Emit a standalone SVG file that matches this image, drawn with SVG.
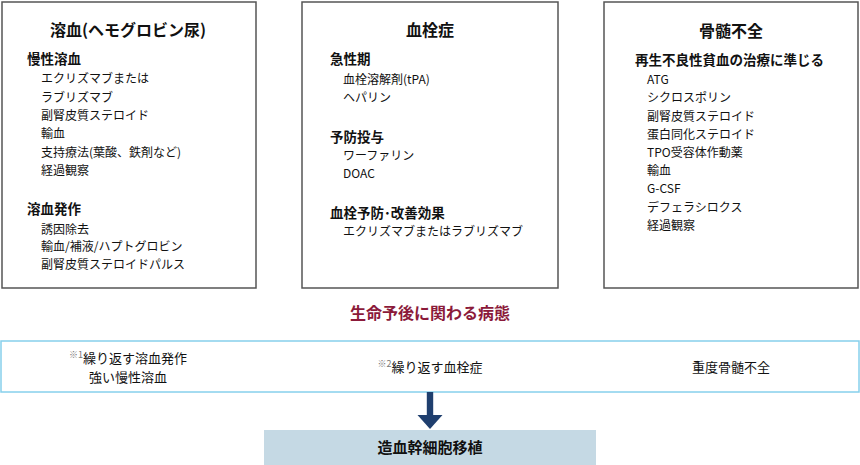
<svg xmlns="http://www.w3.org/2000/svg" width="860" height="465" viewBox="0 0 860 465">
<style>
text{font-family:"Noto Sans CJK JP","Noto Sans",sans-serif;fill:#111}
.box{fill:#fff;stroke:#555;stroke-width:1.5}
.t{font-size:16px;font-weight:bold;text-anchor:middle}
.h{font-size:13.5px;font-weight:bold}
.i{font-size:12px}
.r{font-size:13px;text-anchor:middle}
.sup{font-size:9px;fill:#777}
</style>
<rect width="860" height="465" fill="#fff"/>
<g id="node-hemolysis">
<rect class="box" x="2" y="2" width="254" height="286"/>
<text class="t" x="128" y="36">溶血(ヘモグロビン尿)</text>
<text class="h" x="27" y="64">慢性溶血</text>
<text class="i" x="41" y="83">エクリズマブまたは</text>
<text class="i" x="41" y="101.5">ラブリズマブ</text>
<text class="i" x="41" y="120">副腎皮質ステロイド</text>
<text class="i" x="41" y="138">輸血</text>
<text class="i" x="41" y="156.5">支持療法(葉酸、鉄剤など)</text>
<text class="i" x="41" y="175">経過観察</text>
<text class="h" x="27" y="214">溶血発作</text>
<text class="i" x="41" y="233.5">誘因除去</text>
<text class="i" x="41" y="251">輸血/補液/ハプトグロビン</text>
<text class="i" x="41" y="269">副腎皮質ステロイドパルス</text>
</g>
<g id="node-thrombosis">
<rect class="box" x="302" y="2" width="256" height="286"/>
<text class="t" x="430" y="36">血栓症</text>
<text class="h" x="330" y="64">急性期</text>
<text class="i" x="343" y="84">血栓溶解剤(tPA)</text>
<text class="i" x="343" y="102">ヘパリン</text>
<text class="h" x="330" y="142">予防投与</text>
<text class="i" x="343" y="160">ワーファリン</text>
<text class="i" x="343" y="178">DOAC</text>
<text class="h" x="330" y="218">血栓予防･改善効果</text>
<text class="i" x="343" y="236">エクリズマブまたはラブリズマブ</text>
</g>
<g id="node-marrow">
<rect class="box" x="604" y="2" width="254" height="286"/>
<text class="t" x="731" y="37">骨髄不全</text>
<text class="h" x="635" y="65">再生不良性貧血の治療に準じる</text>
<text class="i" x="647" y="84">ATG</text>
<text class="i" x="647" y="102">シクロスポリン</text>
<text class="i" x="647" y="120.5">副腎皮質ステロイド</text>
<text class="i" x="647" y="139">蛋白同化ステロイド</text>
<text class="i" x="647" y="157">TPO受容体作動薬</text>
<text class="i" x="647" y="175">輸血</text>
<text class="i" x="647" y="193">G-CSF</text>
<text class="i" x="647" y="211.5">デフェラシロクス</text>
<text class="i" x="647" y="230">経過観察</text>
</g>
<g id="node-prognosis">
<text x="430" y="319" style="font-size:16px;font-weight:bold;text-anchor:middle;fill:#8b1a3a">生命予後に関わる病態</text>
<rect x="1" y="341" width="858" height="51" fill="#fff" stroke="#86d0ec" stroke-width="1.5"/>
<text class="r" x="128" y="363"><tspan class="sup" dy="-5">※1</tspan><tspan dy="5">繰り返す溶血発作</tspan></text>
<text class="r" x="128" y="382">強い慢性溶血</text>
<text class="r" x="430" y="372"><tspan class="sup" dy="-5">※2</tspan><tspan dy="5">繰り返す血栓症</tspan></text>
<text class="r" x="731" y="372">重度骨髄不全</text>
</g>
<g id="connectors">
<rect x="426.8" y="392" width="6.4" height="24" fill="#1f3f6e"/>
<polygon points="417.5,415 442.5,415 430,429" fill="#1f3f6e"/>
</g>
<g id="node-transplant">
<rect x="264" y="430" width="332" height="35" fill="#c5d9e4"/>
<text x="430" y="453" style="font-size:15px;font-weight:bold;text-anchor:middle">造血幹細胞移植</text>
</g>
</svg>
